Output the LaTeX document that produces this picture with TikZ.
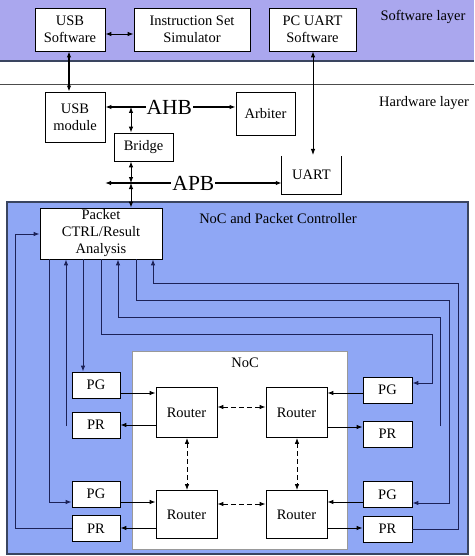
\documentclass[tikz,border=0pt]{standalone}
\usepackage{fontspec}
\setmainfont{Liberation Serif}
\usetikzlibrary{arrows.meta,calc}
\definecolor{swlayer}{HTML}{AAA7EE}
\definecolor{nocpc}{HTML}{8FA7F5}
\definecolor{wirecol}{HTML}{1C2258}
\definecolor{edgecol}{HTML}{3A4560}
\tikzset{
	blk/.style={draw=black, fill=white, line width=0.8pt, inner sep=0pt, align=center,
		font=\fontsize{14.5}{17}\selectfont},
	lbl/.style={inner sep=0pt, font=\fontsize{14.5}{17}\selectfont},
	buslbl/.style={fill=white, inner sep=1pt, font=\fontsize{21.5}{22}\selectfont},
	bus/.style={line width=2.4pt, <->},
	wire/.style={draw=wirecol, line width=0.9pt},
	link/.style={line width=0.9pt},
	dlink/.style={line width=0.9pt, dashed, dash pattern=on 5pt off 3pt, <->}
}

\begin{document}
\begin{tikzpicture}[x=1pt, y=-1pt, >={Latex[length=6pt,width=4.5pt]}]
			\useasboundingbox (0,0) rectangle (474,556);
			%%%%% SOFTWARE LAYER %%%%%
			
			\fill[swlayer] (0,0) rectangle (474,61);
			\draw[line width=1.6pt, color=edgecol] (0,61) -- (474,61);
			\draw[line width=0.8pt, color=black!70] (0,84) -- (474,84);
			\node[lbl] (swtxt) at (423,17) {Software layer};
			\node[lbl] (hwtxt) at (424,103) {Hardware layer};
			
			\node[blk, minimum width=70, minimum height=43] (usbsw) at (70,29.5) {USB\\Software};
			\node[blk, minimum width=116, minimum height=43] (iss) at (192,29.5) {Instruction Set\\Simulator};
			\node[blk, minimum width=87, minimum height=43] (pcuart) at (312.5,29.5) {PC UART\\Software};
			\draw[link, <->] (usbsw.east |- 0,34) -- (iss.west |- 0,34);
			
			%%%%% HARDWARE LAYER %%%%%
			
			\node[blk, minimum width=60, minimum height=50] (usbmod) at (75,117) {USB\\module};
			\node[blk, minimum width=59, minimum height=43] (arbiter) at (265.5,113.5) {Arbiter};
			\node[blk, minimum width=59, minimum height=28] (bridge) at (143.5,147) {Bridge};
			\node[lbl, minimum width=59, minimum height=38] (uart) at (311.5,175) {UART};
			\draw[line width=0.9pt] (uart.north west) -- (uart.south west) -- (uart.south east) -- (uart.north east);
			
			\draw[line width=1.6pt, <->] (69,0 |- usbsw.south) -- (69,0 |- usbmod.north);
			\draw[link, <->] (313,0 |- pcuart.south) -- (313,155);
			
			\coordinate (ahbtap) at (131,107);
			\coordinate (apbtap) at (131,183);
			\coordinate (apbend) at (105,183);
			\draw[bus] (usbmod.east |- ahbtap) -- (arbiter.west |- ahbtap)
				node[buslbl, pos=0.49] (ahb) {AHB};
			\draw[bus] (apbend) -- (uart.west |- apbtap)
				node[buslbl, pos=0.5] (apb) {APB};
			\draw[link, <->] (ahbtap) -- (ahbtap |- bridge.north);
			\draw[link, <->] (ahbtap |- bridge.south) -- (apbtap);
			
			%%%%% NOC AND PACKET CONTROLLER %%%%%
			
			\draw[fill=nocpc, draw=edgecol, line width=1.2pt] (7,202) rectangle (468,554);
			\node[lbl] (ctrltxt) at (278,219) {NoC and Packet Controller};
			\node[blk, minimum width=122, minimum height=51] (packet) at (101,233.5) {Packet\\CTRL/Result\\Analysis};
			\draw[link, <->] (apbtap) -- (apbtap |- packet.north);
			
			\node[draw=black!40, fill=white, line width=0.6pt, minimum width=215, minimum height=198] (noc) at (239.5,450) {};
			\node[lbl] (noctxt) at (245,363) {NoC};
			
			\node[blk, minimum width=61, minimum height=50] (rtl) at (186.5,412.5) {Router};
			\node[blk, minimum width=61, minimum height=50] (rtr) at (296.5,412.5) {Router};
			\node[blk, minimum width=61, minimum height=48] (rbl) at (186.5,514.5) {Router};
			\node[blk, minimum width=61, minimum height=48] (rbr) at (296.5,514.5) {Router};
			
			\node[blk, minimum width=48, minimum height=26] (pgla) at (96,385) {PG};
			\node[blk, minimum width=48, minimum height=26] (prla) at (96,425) {PR};
			\node[blk, minimum width=48, minimum height=26] (pglb) at (96,494) {PG};
			\node[blk, minimum width=48, minimum height=26] (prlb) at (96,528.5) {PR};
			\node[blk, minimum width=49, minimum height=26] (pgra) at (387.5,390) {PG};
			\node[blk, minimum width=49, minimum height=26] (prra) at (387.5,434) {PR};
			\node[blk, minimum width=49, minimum height=26] (pgrb) at (387.5,494.5) {PG};
			\node[blk, minimum width=49, minimum height=26] (prrb) at (387.5,529) {PR};
			
			% generators and receivers at the routers
			\draw[link, ->] (pgla.east |- 0,393) -- (rtl.west |- 0,393);
			\draw[link, ->] (rtl.west |- 0,425) -- (prla.east |- 0,425);
			\draw[link, ->] (pglb.east |- 0,502) -- (rbl.west |- 0,502);
			\draw[link, ->] (rbl.west |- 0,528) -- (prlb.east |- 0,528);
			\draw[link, ->] (pgra.west |- 0,393) -- (rtr.east |- 0,393);
			\draw[link, ->] (rtr.east |- 0,427) -- (prra.west |- 0,427);
			\draw[link, ->] (pgrb.west |- 0,502) -- (rbr.east |- 0,502);
			\draw[link, ->] (rbr.east |- 0,528) -- (prrb.west |- 0,528);
			
			% router to router
			\draw[dlink] (rtl.east |- 0,407) -- (rtr.west |- 0,407);
			\draw[dlink] (rbl.east |- 0,504) -- (rbr.west |- 0,504);
			\draw[dlink] (187,0 |- rtl.south) -- (187,0 |- rbl.north);
			\draw[dlink] (297,0 |- rtr.south) -- (297,0 |- rbr.north);
			
			% packet controller wiring
			\coordinate (prlaend) at (66,426);
			\coordinate (prraend) at (440,426);
			\draw[wire, ->] (prlb.west) -| (15,234) -- (packet.west |- 0,234);
			\draw[wire, ->] (49,0 |- packet.south) |- (pglb.west |- 0,502);
			\draw[wire, ->] (prlaend) -- (66,0 |- packet.south);
			\draw[wire, ->] (83,0 |- packet.south) -- (83,0 |- pgla.north);
			\draw[wire, ->] (101,0 |- packet.south) |- (432,334) |- (pgra.east |- 0,383);
			\draw[wire, ->] (prraend) |- (118,317) -- (118,0 |- packet.south);
			\draw[wire, ->] (136,0 |- packet.south) |- (449,300) |- (pgrb.east |- 0,503);
			\draw[wire, ->] (prrb.east) -| (458,283) -| (153,0 |- packet.south);
			
			%%%%% END %%%%%
\end{tikzpicture}
\end{document}
